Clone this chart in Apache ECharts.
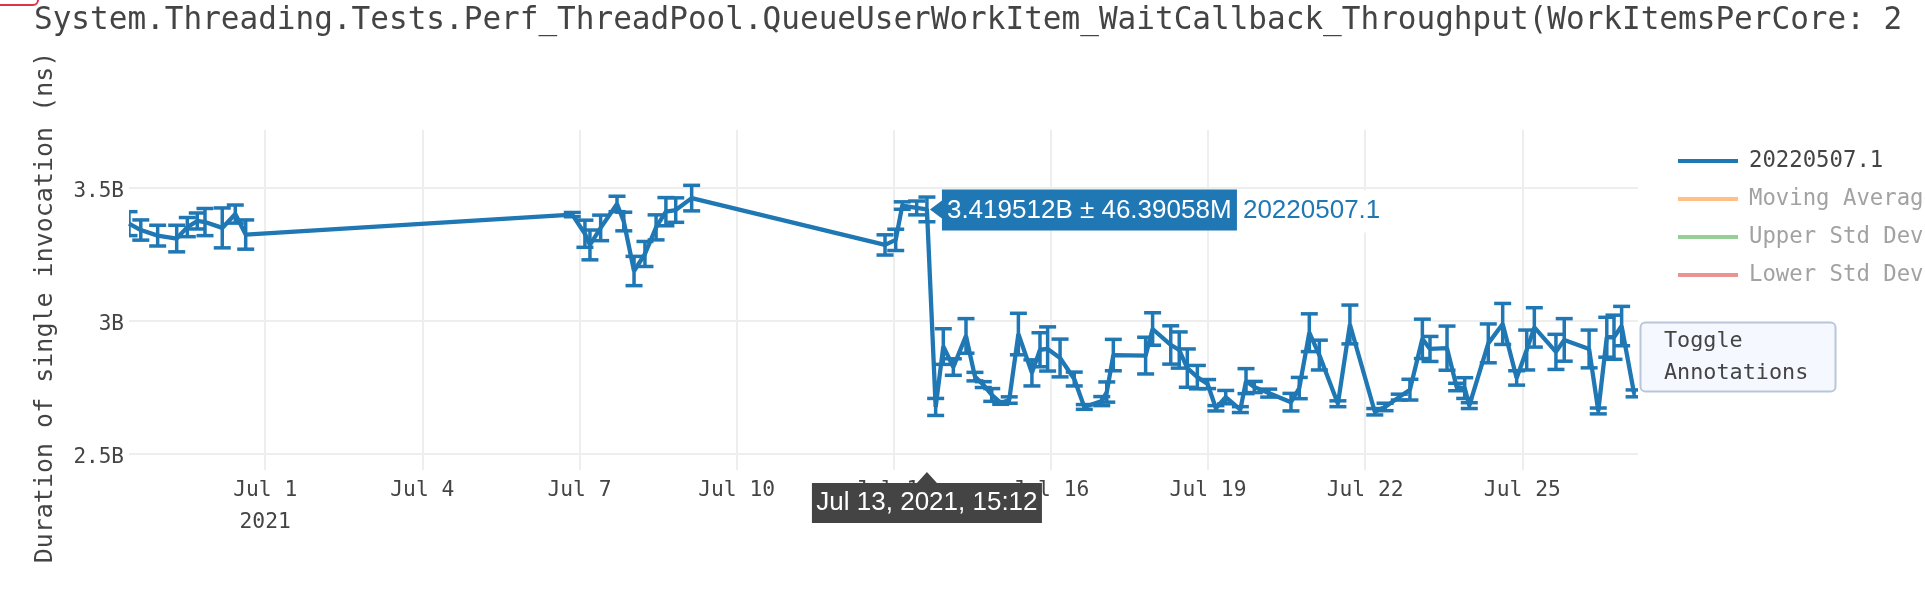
<!DOCTYPE html>
<html>
<head>
<meta charset="utf-8">
<style>
  html, body { margin: 0; padding: 0; background: #fff; }
  #main { width: 1925px; height: 590px; }
</style>
<script src="https://cdn.jsdelivr.net/npm/echarts@6/dist/echarts.min.js"></script>
</head>
<body>
<div id="main"></div>
<script>
var titleText = 'System.Threading.Tests.Perf_ThreadPool.QueueUserWorkItem_WaitCallback_Throughput(WorkItemsPerCore: 2';
var yName = 'Duration of single invocation (ns)';
var runName = '20220507.1';
var hiddenNames = ['Moving Average', 'Upper Std Dev', 'Lower Std Dev'];
var hiddenColors = ['#ffbf87', '#95cf95', '#ea9393'];

var times = [
    '2021-06-28 09:36', '2021-06-28 15:00', '2021-06-28 22:44', '2021-06-29 07:27', '2021-06-29 12:19',
    '2021-06-29 16:53', '2021-06-29 20:25', '2021-06-30 04:20', '2021-06-30 10:18', '2021-06-30 15:04',
    '2021-07-06 20:42', '2021-07-07 02:30', '2021-07-07 04:48', '2021-07-07 09:42', '2021-07-07 17:12',
    '2021-07-07 20:18', '2021-07-08 01:00', '2021-07-08 06:00', '2021-07-08 11:06', '2021-07-08 15:36',
    '2021-07-08 20:06', '2021-07-09 03:24', '2021-07-12 20:00', '2021-07-13 00:54', '2021-07-13 03:54',
    '2021-07-13 10:30', '2021-07-13 15:12', '2021-07-13 19:12', '2021-07-13 22:42', '2021-07-14 03:18',
    '2021-07-14 09:06', '2021-07-14 13:12', '2021-07-14 17:00', '2021-07-14 20:54', '2021-07-15 01:00',
    '2021-07-15 04:54', '2021-07-15 09:06', '2021-07-15 15:18', '2021-07-15 19:00', '2021-07-15 22:30',
    '2021-07-16 04:12', '2021-07-16 10:42', '2021-07-16 15:18', '2021-07-16 23:18', '2021-07-17 01:36',
    '2021-07-17 04:36', '2021-07-17 19:24', '2021-07-17 22:36', '2021-07-18 06:54', '2021-07-18 10:48',
    '2021-07-18 14:30', '2021-07-18 19:06', '2021-07-18 23:48', '2021-07-19 03:36', '2021-07-19 08:06',
    '2021-07-19 14:48', '2021-07-19 17:24', '2021-07-19 21:12', '2021-07-20 03:48', '2021-07-20 14:00',
    '2021-07-20 17:48', '2021-07-20 22:24', '2021-07-21 03:00', '2021-07-21 11:30', '2021-07-21 17:00',
    '2021-07-22 04:24', '2021-07-22 09:06', '2021-07-22 15:36', '2021-07-22 20:30', '2021-07-23 02:12',
    '2021-07-23 05:42', '2021-07-23 13:30', '2021-07-23 17:54', '2021-07-23 21:36', '2021-07-23 23:42',
    '2021-07-24 08:24', '2021-07-24 15:00', '2021-07-24 21:24', '2021-07-25 02:00', '2021-07-25 05:30',
    '2021-07-25 15:24', '2021-07-25 19:12', '2021-07-26 06:36', '2021-07-26 10:48', '2021-07-26 14:42',
    '2021-07-26 18:00', '2021-07-26 21:30', '2021-07-27 03:12'
];
// duration, in billions of ns
var means = [
    3.366, 3.342, 3.321, 3.310, 3.353, 3.376, 3.372, 3.350, 3.402, 3.325,
    3.400, 3.328, 3.286, 3.350, 3.440, 3.374, 3.188, 3.252, 3.352, 3.411,
    3.417, 3.462, 3.286, 3.305, 3.434, 3.425, 3.419512, 2.677, 2.904, 2.827,
    2.944, 2.791, 2.761, 2.722, 2.692, 2.703, 2.951, 2.805, 2.892, 2.895,
    2.861, 2.782, 2.677, 2.699, 2.733, 2.872, 2.870, 2.970, 2.910, 2.891,
    2.823, 2.789, 2.763, 2.672, 2.714, 2.667, 2.774, 2.752, 2.729, 2.695,
    2.748, 2.956, 2.872, 2.689, 2.987, 2.659, 2.677, 2.714, 2.742, 2.933,
    2.895, 2.898, 2.752, 2.748, 2.682, 2.916, 2.989, 2.786, 2.891, 2.976,
    2.884, 2.929, 2.895, 2.662, 2.939, 2.939, 2.981, 2.728
];
// error bar half height, in millions of ns
var errors = [
    45, 38, 39, 50, 36, 30, 51, 75, 34, 55,
    8, 51, 56, 48, 29, 35, 55, 47, 47, 53,
    46, 48, 38, 40, 14, 26, 46.39058, 32, 67, 31,
    65, 16, 11, 24, 5, 12, 78, 49, 64, 83,
    71, 26, 9, 17, 38, 59, 69, 61, 72, 68,
    72, 44, 17, 10, 25, 11, 47, 21, 15, 33,
    40, 71, 56, 11, 73, 12, 14, 11, 39, 74,
    47, 83, 14, 39, 11, 73, 77, 27, 75, 74,
    66, 80, 71, 11, 75, 83, 74, 13
];

var xMin = '2021-06-28 09:36';
var xMax = '2021-07-27 05:00';
var yMin = 2.44;
var yMax = 3.718;
var xTicks = ['2021-07-01', '2021-07-04', '2021-07-07', '2021-07-10', '2021-07-13', '2021-07-16', '2021-07-19', '2021-07-22', '2021-07-25'];
var xTickLabels = ['Jul 1\n2021', 'Jul 4', 'Jul 7', 'Jul 10', 'Jul 13', 'Jul 16', 'Jul 19', 'Jul 22', 'Jul 25'];
var yTicks = [2.5, 3, 3.5];
var yTickLabels = ['2.5B', '3B', '3.5B'];

var hoverIndex = 26;
var hoverValueText = '3.419512B \u00b1 46.39058M';
var hoverDateText = 'Jul 13, 2021, 15:12';

var BLUE = '#1f77b4';
var MONO = '"DejaVu Sans Mono", monospace';
var ARIAL = '"Liberation Sans", Arial, sans-serif';

var chart = echarts.init(document.getElementById('main'));

function toMs(t) {
    return echarts.time.parse(t).getTime();
}

var xTickValues = xTicks.map(function (t) { return toMs(t + ' 00:00'); });

var lineData = times.map(function (t, i) { return [toMs(t), means[i]]; });
var errData = times.map(function (t, i) { return [toMs(t), means[i] - errors[i] / 1000, means[i] + errors[i] / 1000]; });

function renderErrorBar(params, api) {
    var x = api.coord([api.value(0), api.value(1)])[0];
    var low = api.coord([api.value(0), api.value(1)])[1];
    var high = api.coord([api.value(0), api.value(2)])[1];
    var style = { stroke: BLUE, lineWidth: 3.5, fill: null };
    return {
        type: 'group',
        children: [
            { type: 'line', shape: { x1: x, y1: low, x2: x, y2: high }, style: style },
            { type: 'line', shape: { x1: x - 8.5, y1: low, x2: x + 8.5, y2: low }, style: style },
            { type: 'line', shape: { x1: x - 8.5, y1: high, x2: x + 8.5, y2: high }, style: style }
        ]
    };
}

// the two labels plotly leaves on screen for the hovered point
function renderHover(params, api) {
    var p = api.coord([api.value(0), api.value(1)]);
    var bottom = params.coordSys.y + params.coordSys.height;
    var bx = p[0] + 15;
    return {
        type: 'group',
        children: [
            { type: 'rect', shape: { x: bx + 294, y: p[1] - 19, width: 150, height: 42 }, style: { fill: '#fff' } },
            { type: 'polygon', shape: { points: [[p[0] + 3, p[1]], [bx, p[1] - 9], [bx, p[1] - 20], [bx + 295, p[1] - 20], [bx + 295, p[1] + 21], [bx, p[1] + 21], [bx, p[1] + 9]] }, style: { fill: BLUE } },
            { type: 'text', style: { x: bx + 5, y: p[1] + 1, text: hoverValueText, fill: '#fff', font: '26px ' + ARIAL, verticalAlign: 'middle' } },
            { type: 'text', style: { x: bx + 301, y: p[1] + 1, text: runName, fill: BLUE, font: '26px ' + ARIAL, verticalAlign: 'middle' } },
            { type: 'polygon', shape: { points: [[p[0], bottom + 2], [p[0] + 10, bottom + 13], [p[0] + 115, bottom + 13], [p[0] + 115, bottom + 53], [p[0] - 115, bottom + 53], [p[0] - 115, bottom + 13], [p[0] - 10, bottom + 13]] }, style: { fill: '#444' } },
            { type: 'text', style: { x: p[0], y: bottom + 33, text: hoverDateText, fill: '#fff', font: '26px ' + ARIAL, align: 'center', verticalAlign: 'middle' } }
        ]
    };
}

var legendData = [{
    name: runName,
    icon: 'rect',
    itemStyle: { color: BLUE },
    textStyle: { color: '#444' }
}];
hiddenNames.forEach(function (name, i) {
    legendData.push({
        name: name,
        icon: 'rect',
        itemStyle: { color: hiddenColors[i] },
        textStyle: { color: '#a2a2a2' }
    });
});

var series = [{
    type: 'custom',
    name: 'errors',
    data: errData,
    encode: { x: 0, y: [1, 2] },
    clip: true,
    silent: true,
    renderItem: renderErrorBar,
    z: 2
}, {
    type: 'line',
    name: runName,
    data: lineData,
    showSymbol: false,
    clip: true,
    color: BLUE,
    lineStyle: { color: BLUE, width: 4.3 },
    z: 3
}];
hiddenNames.forEach(function (name, i) {
    series.push({ type: 'line', name: name, data: [], color: hiddenColors[i] });
});
series.push({
    type: 'custom',
    name: 'hover',
    data: [[toMs(times[hoverIndex]), means[hoverIndex]]],
    encode: { x: 0, y: 1 },
    clip: false,
    silent: true,
    renderItem: renderHover,
    z: 10
});

var option = {
    animation: false,
    title: {
        text: titleText,
        left: 34,
        top: 5,
        padding: 0,
        textStyle: { fontFamily: MONO, fontSize: 31.04, fontWeight: 'normal', color: '#444' }
    },
    grid: { left: 129, right: 287, top: 130, bottom: 120 },
    legend: {
        orient: 'vertical',
        left: 1673,
        top: 145,
        itemWidth: 60,
        itemHeight: 4,
        itemGap: 16,
        data: legendData,
        textStyle: { fontFamily: MONO, fontSize: 22.3, padding: [0, 0, 0, 6] }
    },
    xAxis: {
        type: 'value',
        min: toMs(xMin),
        max: toMs(xMax),
        axisLine: { show: false },
        axisTick: { show: false, customValues: xTickValues },
        splitLine: { show: true, lineStyle: { color: '#eeeeee', width: 2 } },
        axisLabel: {
            customValues: xTickValues,
            margin: 4.5,
            lineHeight: 32,
            color: '#444',
            fontFamily: MONO,
            fontSize: 21.3,
            formatter: function (value) {
                return xTickLabels[xTickValues.indexOf(value)];
            }
        }
    },
    yAxis: {
        type: 'value',
        min: yMin,
        max: yMax,
        name: yName,
        nameLocation: 'middle',
        nameGap: 71,
        nameTextStyle: { fontFamily: MONO, fontSize: 25, color: '#444', padding: [0, 15, 0, 0] },
        axisLine: { show: false },
        axisTick: { show: false, customValues: yTicks },
        splitLine: { show: true, lineStyle: { color: '#eeeeee', width: 2 } },
        axisLabel: {
            customValues: yTicks,
            margin: 5,
            color: '#444',
            fontFamily: MONO,
            fontSize: 21,
            verticalAlign: 'top',
            lineHeight: 7,
            formatter: function (value) {
                return yTickLabels[yTicks.indexOf(value)];
            }
        }
    },
    graphic: [
        // corner of a badge cut off by the screenshot
        { type: 'rect', shape: { x: -20, y: -20, width: 58, height: 25, r: 5 }, style: { fill: null, stroke: '#dc3545', lineWidth: 2 } },
        { type: 'rect', z: 20, shape: { x: 1640.5, y: 322.5, width: 195, height: 69, r: 5 }, style: { fill: '#f5f9ff', stroke: '#b9c6da', lineWidth: 2 } },
        { type: 'text', z: 21, style: { x: 1664, y: 341, text: 'Toggle', fill: '#444', font: '21.8px ' + MONO, verticalAlign: 'middle' } },
        { type: 'text', z: 21, style: { x: 1664, y: 373, text: 'Annotations', fill: '#444', font: '21.8px ' + MONO, verticalAlign: 'middle' } }
    ],
    series: series
};

chart.setOption(option);
</script>
</body>
</html>
